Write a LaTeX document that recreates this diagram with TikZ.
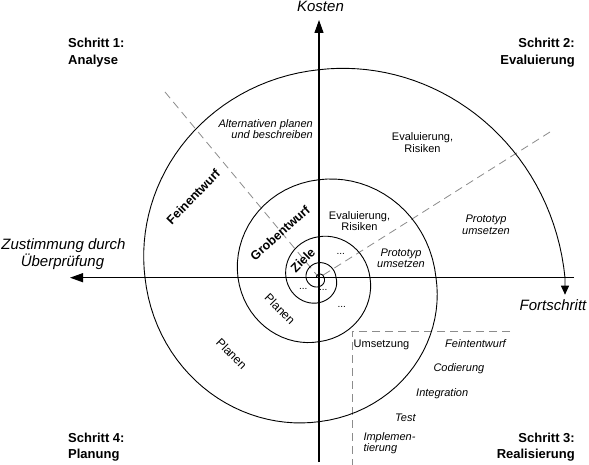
\documentclass[tikz,border=0pt]{standalone}
\usepackage{fontspec}
\setmainfont{Liberation Sans}
\usetikzlibrary{arrows.meta}
\begin{document}
\begin{tikzpicture}[x=1pt,y=-1pt,
  lbl/.style={inner sep=0pt, anchor=base},
  bigit/.style={lbl, font=\fontsize{15}{17}\selectfont\itshape},
  schritt/.style={inner sep=0pt, font=\fontsize{13}{15}\selectfont\bfseries},
  txt/.style={lbl, font=\fontsize{11}{13}\selectfont},
  itx/.style={lbl, font=\fontsize{11}{13}\selectfont\itshape},
  rotb/.style={inner sep=0pt, font=\fontsize{12.5}{14}\selectfont\bfseries},
  pln/.style={inner sep=0pt, font=\fontsize{12}{14}\selectfont},
  dots/.style={inner sep=0pt, font=\fontsize{10}{12}\selectfont},
  axis/.style={line width=1.1pt, -{Triangle[length=13pt,width=9pt]}},
  guide/.style={draw=black!45, line width=0.8pt, dash pattern=on 8pt off 5pt},
  spiral/.style={line width=0.9pt},
]
\useasboundingbox (0,0) rectangle (589,465);
\fill[white] (0,0) rectangle (589,465);

\coordinate (O) at (319,277.7);
\coordinate (xr) at (574,277.7);
\coordinate (xl) at (70,277.7);
\coordinate (yb) at (319,462);
\coordinate (yt) at (319,20);
\coordinate (nw) at (165,92);
\coordinate (ne) at (550,132);
\coordinate (rc) at (352,331);
\coordinate (rr) at (510,331);
\coordinate (rb) at (352,465);

% dashed guides
\draw[guide] (nw) -- (O);
\draw[guide] (ne) -- (O);
\draw[guide] (rr) -- (rc) -- (rb);

% spiral
\draw[spiral, shift={(319,277.7)}, -{Triangle[length=9pt,width=8pt]}]
  plot[domain=-180:-90,samples=12] (\x:{2.5+1*(\x+180)/90})
  -- plot[domain=-90:0,samples=12] (\x:{3.5+1.5*(\x+90)/90})
  -- plot[domain=0:90,samples=12] (\x:{5+4*\x/90})
  -- plot[domain=90:180,samples=12] (\x:{9+4*(\x-90)/90})
  -- plot[domain=180:270,samples=12] (\x:{13+2*(\x-180)/90})
  -- plot[domain=270:360,samples=12] (\x:{15+2*(\x-270)/90})
  -- plot[domain=360:450,samples=14] (\x:{17+8*(\x-360)/90})
  -- plot[domain=450:540,samples=14] (\x:{25+8*(\x-450)/90})
  -- plot[domain=540:630,samples=14] (\x:{33+8*(\x-540)/90})
  -- plot[domain=630:720,samples=16] (\x:{41+10*(\x-630)/90})
  -- plot[domain=720:810,samples=16] (\x:{51+13*(\x-720)/90})
  -- plot[domain=810:900,samples=18] (\x:{64+17*(\x-810)/90})
  -- plot[domain=900:990,samples=18] (\x:{81+17*(\x-900)/90})
  -- plot[domain=990:1080,samples=20] (\x:{98+19*(\x-990)/90})
  -- plot[domain=1080:1170,samples=24] (\x:{117+27*(\x-1080)/90})
  -- plot[domain=1170:1260,samples=28] (\x:{144+30*(\x-1170)/90})
  -- plot[domain=1260:1350,samples=32] (\x:{174+34*(\x-1260)/90})
  -- plot[domain=1350:1440,samples=36] (\x:{208+38*(\x-1350)/90})
  -- ++(0,17);

% axes
\draw[axis] (xr) -- (xl);
\draw[axis] (yb) -- (yt);

% axis labels
\node[bigit] (kost) at (320.5,12) {Kosten};
\node[bigit] (fort) at (553,310) {Fortschritt};
\node[bigit] (zus1) at (63.5,250) {Zustimmung durch};
\node[bigit] (zus2) at (62.5,266) {Überprüfung};

% steps
\node[schritt, anchor=base west] (s1a) at (68,48) {Schritt 1:};
\node[schritt, anchor=base west] (s1b) at (68,65) {Analyse};
\node[schritt, anchor=base east] (s2a) at (575,48) {Schritt 2:};
\node[schritt, anchor=base east] (s2b) at (575,65) {Evaluierung};
\node[schritt, anchor=base east] (s3a) at (575,442.5) {Schritt 3:};
\node[schritt, anchor=base east] (s3b) at (575,458) {Realisierung};
\node[schritt, anchor=base west] (s4a) at (68,442.5) {Schritt 4:};
\node[schritt, anchor=base west] (s4b) at (68,458) {Planung};

% quadrant labels
\node[itx, anchor=base east] (alt1) at (313,127.3) {Alternativen planen};
\node[itx, anchor=base east] (alt2) at (313,139) {und beschreiben};
\node[txt] (ev1) at (422.5,140.7) {Evaluierung,};
\node[txt] (ev2) at (422.5,152.3) {Risiken};
\node[itx] (pr1) at (486,222.7) {Prototyp};
\node[itx] (pr2) at (486,235) {umsetzen};
\node[txt] (iev1) at (359.5,219.3) {Evaluierung,};
\node[txt] (iev2) at (359.5,230) {Risiken};
\node[itx] (ipr1) at (401,256.5) {Prototyp};
\node[itx] (ipr2) at (401,267.5) {umsetzen};

% realisation
\node[txt, anchor=base west] (ums) at (353.5,347.3) {Umsetzung};
\node[itx, anchor=base west] (fte) at (445,347.3) {Feintentwurf};
\node[itx, anchor=base west] (cod) at (433.3,371.7) {Codierung};
\node[itx, anchor=base west] (int) at (416,396) {Integration};
\node[itx, anchor=base west] (tst) at (395,421.7) {Test};
\node[itx, anchor=base west] (imp1) at (363.3,440.7) {Implemen-};
\node[itx, anchor=base west] (imp2) at (363.3,451.3) {tierung};

% rotated labels
\node[rotb, rotate=46] (fein) at (193.3,196.7) {Feinentwurf};
\node[rotb, rotate=42] (grob) at (280,233) {Grobentwurf};
\node[rotb, rotate=45] (ziel) at (302.7,260) {Ziele};
\node[pln, rotate=-45] (pl1) at (280,309) {Planen};
\node[pln, rotate=-45] (pl2) at (231.7,353.7) {Planen};

% dots
\node[dots] (d1) at (340.7,254.3) {...};
\node[dots] (d2) at (303.3,289) {...};
\node[dots] (d3) at (323.3,290) {...};
\node[dots] (d4) at (341.7,306.7) {...};
\end{tikzpicture}
\end{document}
